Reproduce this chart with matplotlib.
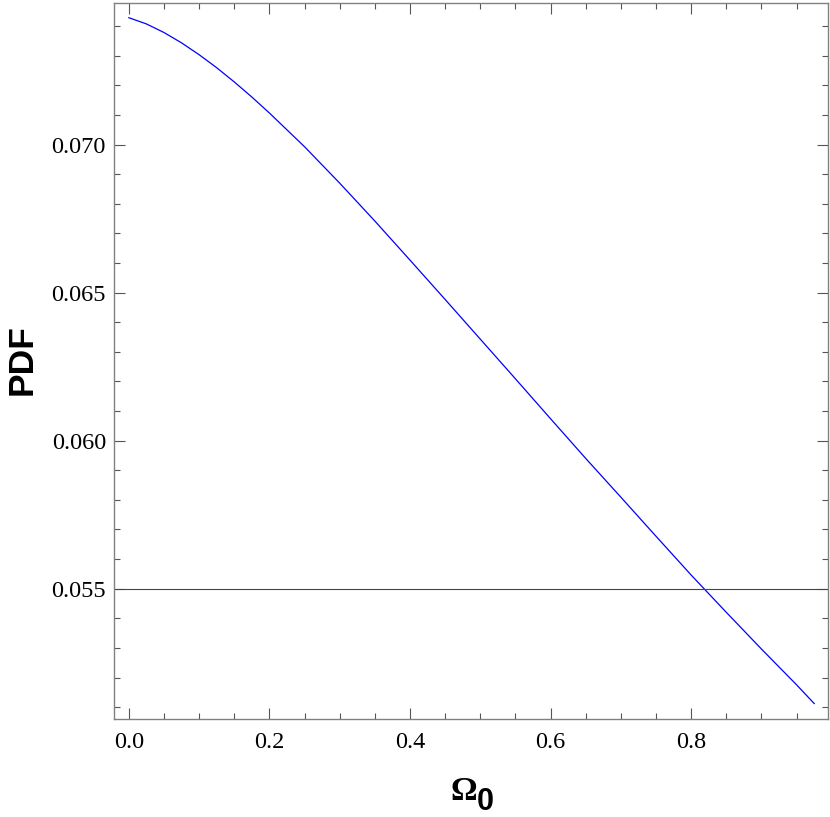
import numpy as np
import matplotlib
matplotlib.use('Agg')
import matplotlib.pyplot as plt
from matplotlib.ticker import MultipleLocator

# PDF curve
omega0 = [0.0, 0.025, 0.05, 0.075, 0.1, 0.125, 0.15, 0.175, 0.2, 0.25,
          0.3, 0.35, 0.4, 0.45, 0.5, 0.55, 0.6, 0.65, 0.7, 0.75, 0.8,
          0.85, 0.9, 0.95, 0.975]
pdf = [0.07429, 0.07408, 0.07379, 0.07344, 0.07304, 0.07260, 0.07212,
       0.07161, 0.07107, 0.06993, 0.06870, 0.06742, 0.06610, 0.06477,
       0.06343, 0.06209, 0.06074, 0.05940, 0.05809, 0.05677, 0.05546,
       0.05420, 0.05296, 0.05175, 0.05112]
level = 0.055

xticks = [0.0, 0.2, 0.4, 0.6, 0.8]
xticklabels = ['0.0', '0.2', '0.4', '0.6', '0.8']
yticks = [0.055, 0.060, 0.065, 0.070]
yticklabels = ['0.055', '0.060', '0.065', '0.070']

fig = plt.figure(figsize=(8.3, 8.17), dpi=100)
ax = fig.add_axes([114/830, 1-719/817, (828-114)/830, (719-2.7)/817])

ax.plot(omega0, pdf, color='#0000ff', lw=0.9)
ax.axhline(level, color='#444444', lw=0.8)

ax.set_xlim(-0.0211, 0.9946)
ax.set_ylim(0.050598, 0.074797)

ax.set_xticks(xticks)
ax.set_xticklabels(xticklabels, family='Liberation Serif', fontsize=17.5)
ax.set_yticks(yticks)
ax.set_yticklabels(yticklabels, family='Liberation Serif', fontsize=17.5)
ax.xaxis.set_minor_locator(MultipleLocator(0.05))
ax.yaxis.set_minor_locator(MultipleLocator(0.001))

ax.tick_params(which='both', direction='in', top=True, right=True,
               color='#555555', width=0.8)
ax.tick_params(which='major', length=8)
ax.tick_params(which='minor', length=4.3)
ax.tick_params(axis='x', which='major', pad=9.5)
ax.tick_params(axis='y', which='major', pad=5.8)

for s in ax.spines.values():
    s.set_color('#808080')
    s.set_linewidth(1.0)

# axis labels
fig.text(22.5/830, 1-360/817, 'PDF', rotation=90, ha='center', va='center',
         family='Liberation Sans', fontweight='bold', fontsize=25.5)
fig.text(476.7/830, 1-800/817, '\u03a9', ha='right', va='baseline',
         family='Liberation Serif', fontweight='bold', fontsize=24)
fig.text(476.5/830, 1-809.5/817, '0', ha='left', va='baseline',
         family='Liberation Sans', fontweight='bold', fontsize=22)

fig.savefig('out.png', dpi=100)
